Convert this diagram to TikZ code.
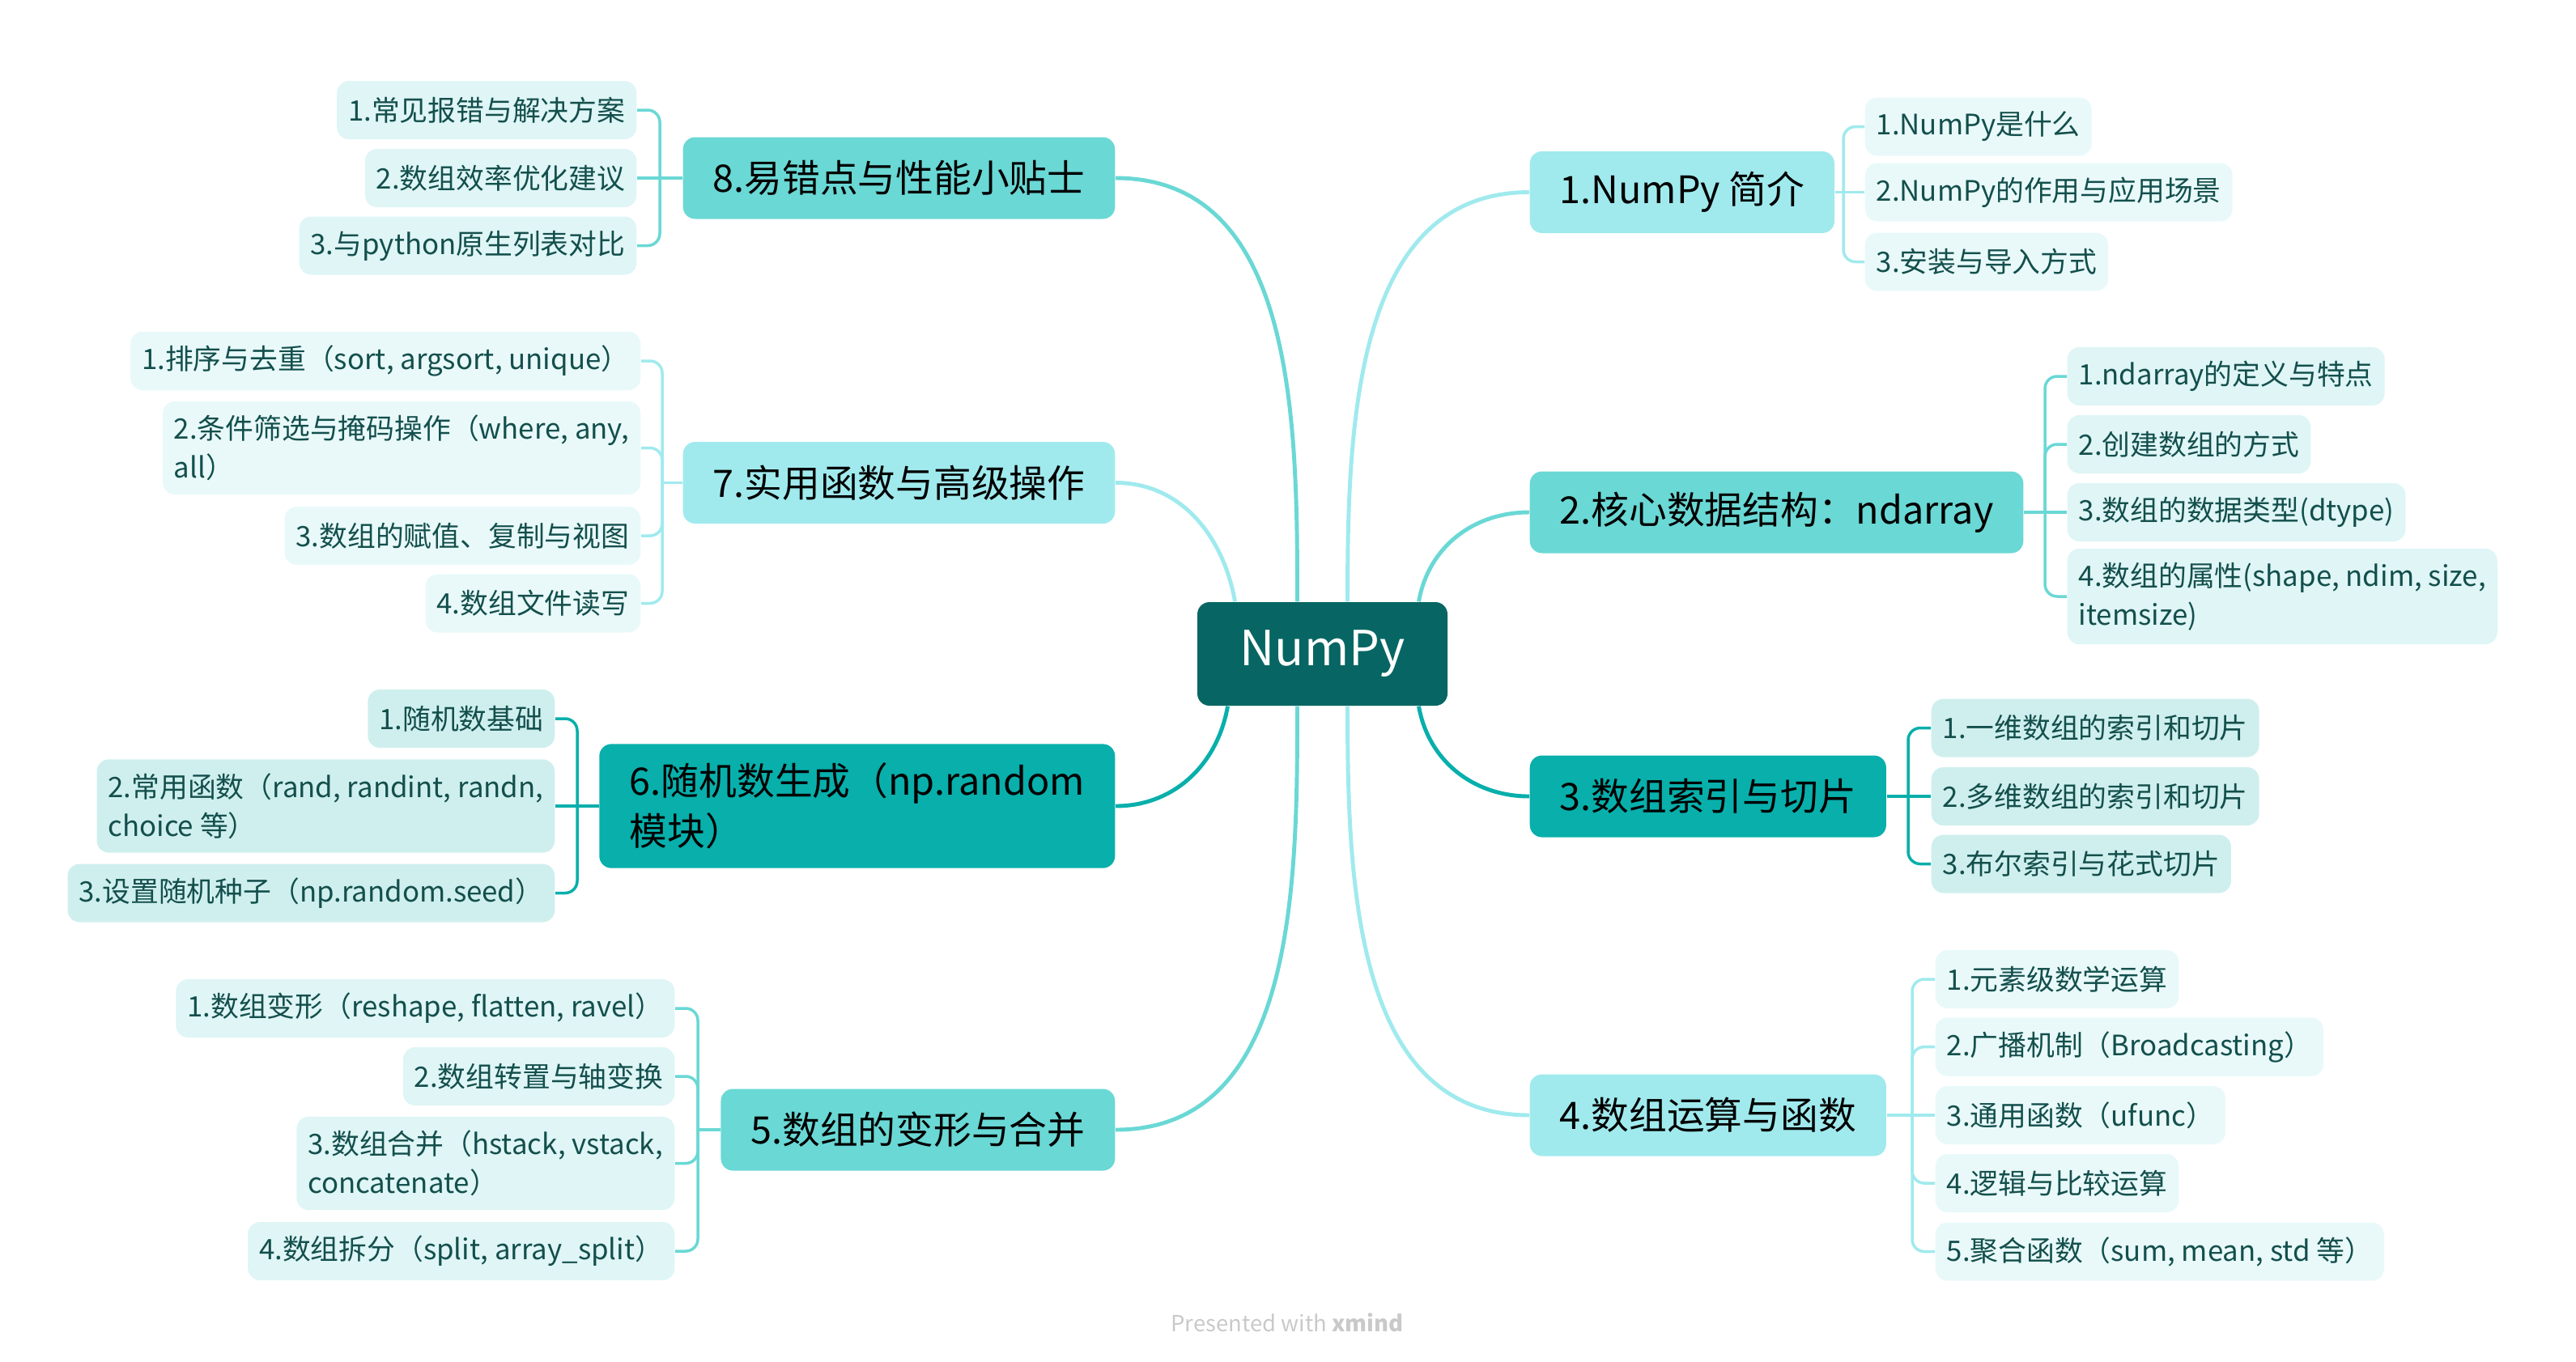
\documentclass[tikz,border=0pt]{standalone}
\usepackage{fontspec}
\setmainfont{Noto Sans CJK SC}
\usetikzlibrary{positioning}
\definecolor{hubfill}{HTML}{076663}
\definecolor{tealLight}{HTML}{A0EAEE}
\definecolor{tealMid}{HTML}{6AD8D5}
\definecolor{tealDeep}{HTML}{08AFAB}
\definecolor{paleL}{HTML}{E9F9FA}
\definecolor{paleM}{HTML}{DFF5F6}
\definecolor{paleD}{HTML}{CFEFEE}
\definecolor{itemtext}{HTML}{134F4C}
\definecolor{wmgray}{HTML}{C9C9C9}

\begin{document}
\begin{tikzpicture}[
  hub/.style={rounded corners=0.15cm, fill=hubfill, text=white, minimum width=3.09cm, minimum height=1.28cm, font=\fontsize{17}{21}\selectfont},
  topic/.style={rounded corners=0.15cm, inner xsep=0.37cm, inner ysep=0.235cm, minimum height=1.01cm, align=left, font=\fontsize{13.3}{17.6}\selectfont},
  topicL/.style={topic, fill=tealLight},
  topicM/.style={topic, fill=tealMid},
  topicD/.style={topic, fill=tealDeep},
  item/.style={rounded corners=0.15cm, inner xsep=0.14cm, inner ysep=0.17cm, minimum height=0.72cm, align=left, text=itemtext, font=\fontsize{9.9}{13.7}\selectfont},
  itemL/.style={item, fill=paleL},
  itemM/.style={item, fill=paleM},
  itemD/.style={item, fill=paleD},
  link/.style={line width=1.4pt},
  tie/.style={line width=1pt, rounded corners=0.15cm},
]
  \useasboundingbox (0,0) rectangle (31.82,-16.82);

  % centre
  \node[hub] (hub) at (16.335,-8.08) {NumPy};

  % main topics
  \node[topicL, anchor=west] (b1) at (18.89,-2.375) {1.NumPy 简介};
  \node[topicM, anchor=west] (b2) at (18.89,-6.33) {2.核心数据结构：ndarray};
  \node[topicD, anchor=west] (b3) at (18.89,-9.84) {3.数组索引与切片};
  \node[topicL, anchor=west] (b4) at (18.89,-13.78) {4.数组运算与函数};
  \node[topicM, anchor=east] (b5) at (13.78,-13.96) {5.数组的变形与合并};
  \node[topicD, anchor=east, minimum width=6.37cm] (b6) at (13.78,-9.96) {6.随机数生成（np.random\\模块）};
  \node[topicL, anchor=east] (b7) at (13.78,-5.965) {7.实用函数与高级操作};
  \node[topicM, anchor=east] (b8) at (13.78,-2.20) {8.易错点与性能小贴士};

  % centre to topics
  \draw[link, tealLight] ([xshift=0.31cm]hub.north) to[out=90,in=180] (b1.west);
  \draw[link, tealMid] ([xshift=1.19cm]hub.north) to[out=80,in=180] (b2.west);
  \draw[link, tealDeep] ([xshift=1.19cm]hub.south) to[out=-80,in=180] (b3.west);
  \draw[link, tealLight] ([xshift=0.31cm]hub.south) to[out=-90,in=180] (b4.west);
  \draw[link, tealMid] ([xshift=-0.31cm]hub.south) to[out=-90,in=0] (b5.east);
  \draw[link, tealDeep] ([xshift=-1.17cm]hub.south) to[out=-100,in=0] (b6.east);
  \draw[link, tealLight] ([xshift=-1.08cm]hub.north) to[out=100,in=0] (b7.east);
  \draw[link, tealMid] ([xshift=-0.31cm]hub.north) to[out=90,in=0] (b8.east);

  % 1
  \coordinate (j1) at (22.77,-2.375);
  \node[itemL, anchor=west] (s11) at (23.03,-1.565) {1.NumPy是什么};
  \node[itemL, anchor=west] (s12) at (23.03,-2.375) {2.NumPy的作用与应用场景};
  \node[itemL, anchor=west] (s13) at (23.03,-3.235) {3.安装与导入方式};
  \draw[tie, tealLight] (b1) -- (j1);
  \draw[tie, tealLight] (j1) |- (s11.west);
  \draw[tie, tealLight] (j1) -- (s12.west);
  \draw[tie, tealLight] (j1) |- (s13.west);

  % 2
  \coordinate (j2) at (25.26,-6.33);
  \node[itemM, anchor=west] (s21) at (25.53,-4.65) {1.ndarray的定义与特点};
  \node[itemM, anchor=west] (s22) at (25.53,-5.49) {2.创建数组的方式};
  \node[itemM, anchor=west] (s23) at (25.53,-6.33) {3.数组的数据类型(dtype)};
  \node[itemM, anchor=west] (s24) at (25.53,-7.37) {4.数组的属性(shape, ndim, size,\\itemsize)};
  \draw[tie, tealMid] (b2) -- (j2);
  \draw[tie, tealMid] (j2) |- (s21.west);
  \draw[tie, tealMid] (j2) |- (s22.west);
  \draw[tie, tealMid] (j2) -- (s23.west);
  \draw[tie, tealMid] (j2) |- (s24.west);

  % 3
  \coordinate (j3) at (23.57,-9.84);
  \node[itemD, anchor=west] (s31) at (23.85,-8.995) {1.一维数组的索引和切片};
  \node[itemD, anchor=west] (s32) at (23.85,-9.84) {2.多维数组的索引和切片};
  \node[itemD, anchor=west] (s33) at (23.85,-10.675) {3.布尔索引与花式切片};
  \draw[tie, tealDeep] (b3) -- (j3);
  \draw[tie, tealDeep] (j3) |- (s31.west);
  \draw[tie, tealDeep] (j3) -- (s32.west);
  \draw[tie, tealDeep] (j3) |- (s33.west);

  % 4
  \coordinate (j4) at (23.62,-13.78);
  \node[itemL, anchor=west] (s41) at (23.90,-12.10) {1.元素级数学运算};
  \node[itemL, anchor=west] (s42) at (23.90,-12.935) {2.广播机制（Broadcasting）};
  \node[itemL, anchor=west] (s43) at (23.90,-13.78) {3.通用函数（ufunc）};
  \node[itemL, anchor=west] (s44) at (23.90,-14.62) {4.逻辑与比较运算};
  \node[itemL, anchor=west] (s45) at (23.90,-15.465) {5.聚合函数（sum, mean, std 等）};
  \draw[tie, tealLight] (b4) -- (j4);
  \draw[tie, tealLight] (j4) |- (s41.west);
  \draw[tie, tealLight] (j4) |- (s42.west);
  \draw[tie, tealLight] (j4) -- (s43.west);
  \draw[tie, tealLight] (j4) |- (s44.west);
  \draw[tie, tealLight] (j4) |- (s45.west);

  % 5
  \coordinate (j5) at (8.62,-13.96);
  \node[itemM, anchor=east] (s51) at (8.34,-12.46) {1.数组变形（reshape, flatten, ravel）};
  \node[itemM, anchor=east] (s52) at (8.34,-13.30) {2.数组转置与轴变换};
  \node[itemM, anchor=east] (s53) at (8.34,-14.375) {3.数组合并（hstack, vstack,\\concatenate）};
  \node[itemM, anchor=east] (s54) at (8.34,-15.46) {4.数组拆分（split, array\_split）};
  \draw[tie, tealMid] (b5) -- (j5);
  \draw[tie, tealMid] (j5) |- (s51.east);
  \draw[tie, tealMid] (j5) |- (s52.east);
  \draw[tie, tealMid] (j5) |- (s53.east);
  \draw[tie, tealMid] (j5) |- (s54.east);

  % 6
  \coordinate (j6) at (7.13,-9.96);
  \node[itemD, anchor=east] (s61) at (6.86,-8.88) {1.随机数基础};
  \node[itemD, anchor=east] (s62) at (6.86,-9.96) {2.常用函数（rand, randint, randn,\\choice 等）};
  \node[itemD, anchor=east] (s63) at (6.86,-11.035) {3.设置随机种子（np.random.seed）};
  \draw[tie, tealDeep] (b6) -- (j6);
  \draw[tie, tealDeep] (j6) |- (s61.east);
  \draw[tie, tealDeep] (j6) -- (s62.east);
  \draw[tie, tealDeep] (j6) |- (s63.east);

  % 7
  \coordinate (j7) at (8.18,-5.965);
  \node[itemL, anchor=east] (s71) at (7.92,-4.46) {1.排序与去重（sort, argsort, unique）};
  \node[itemL, anchor=east] (s72) at (7.92,-5.535) {2.条件筛选与掩码操作（where, any,\\all）};
  \node[itemL, anchor=east] (s73) at (7.92,-6.62) {3.数组的赋值、复制与视图};
  \node[itemL, anchor=east] (s74) at (7.92,-7.455) {4.数组文件读写};
  \draw[tie, tealLight] (b7) -- (j7);
  \draw[tie, tealLight] (j7) |- (s71.east);
  \draw[tie, tealLight] (j7) |- (s72.east);
  \draw[tie, tealLight] (j7) |- (s73.east);
  \draw[tie, tealLight] (j7) |- (s74.east);

  % 8
  \coordinate (j8) at (8.15,-2.20);
  \node[itemM, anchor=east] (s81) at (7.87,-1.36) {1.常见报错与解决方案};
  \node[itemM, anchor=east] (s82) at (7.87,-2.20) {2.数组效率优化建议};
  \node[itemM, anchor=east] (s83) at (7.87,-3.035) {3.与python原生列表对比};
  \draw[tie, tealMid] (b8) -- (j8);
  \draw[tie, tealMid] (j8) |- (s81.east);
  \draw[tie, tealMid] (j8) -- (s82.east);
  \draw[tie, tealMid] (j8) |- (s83.east);

  \node[text=wmgray, font=\fontsize{7.8}{9}\selectfont] (mark) at (15.90,-16.34) {Presented with \textbf{xmind}};
\end{tikzpicture}
\end{document}
